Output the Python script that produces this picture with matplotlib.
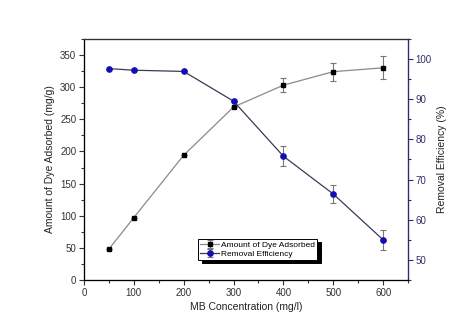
import matplotlib
matplotlib.use("Agg")
import matplotlib.pyplot as plt
from matplotlib.ticker import MultipleLocator

plt.rcParams['font.family'] = ['Liberation Sans', 'DejaVu Sans']

conc = [50, 100, 200, 300, 400, 500, 600]
amount = [48, 97, 194, 269, 303, 324, 330]
amount_err = [0, 0, 0, 0, 11, 14, 18]
removal = [97.6, 97.2, 96.9, 89.5, 75.8, 66.4, 55.0]
removal_err = [0, 0, 0, 0, 2.5, 2.3, 2.4]

fig = plt.figure(figsize=(4.74, 3.35), dpi=100)
ax = fig.add_axes([0.177, 0.164, 0.684, 0.720])
ax2 = ax.twinx()

navy = '#2e2e6e'
l1 = ax.errorbar(conc, amount, yerr=amount_err, color='#8a8a8a', lw=0.9,
                 marker='s', ms=3.4, mfc='black', mec='black',
                 ecolor='#777777', elinewidth=0.8, capsize=2.5, capthick=0.8,
                 label='Amount of Dye Adsorbed')
l2 = ax2.errorbar(conc, removal, yerr=removal_err, color='#3a3a55', lw=0.9,
                  marker='o', ms=3.8, mfc='#1010b0', mec='#1010b0',
                  ecolor='#777777', elinewidth=0.8, capsize=2.5, capthick=0.8,
                  label='Removal Efficiency')

ax.set_xlim(0, 650)
ax.set_ylim(0, 375)
ax2.set_ylim(45, 105)

ax.xaxis.set_major_locator(MultipleLocator(100))
ax.xaxis.set_minor_locator(MultipleLocator(50))
ax.yaxis.set_major_locator(MultipleLocator(50))
ax.yaxis.set_minor_locator(MultipleLocator(25))
ax2.yaxis.set_major_locator(MultipleLocator(10))
ax2.yaxis.set_minor_locator(MultipleLocator(5))
ax2.set_yticks([50, 60, 70, 80, 90, 100])

fs = 7
lfs = 7.5
ax.tick_params(axis='both', which='major', direction='out', length=3.5, width=0.8,
               labelsize=fs, colors='#333333', pad=2)
ax.tick_params(axis='both', which='minor', direction='out', length=2, width=0.8,
               colors='#333333')
ax.tick_params(axis='x', which='both', top=False)
ax2.tick_params(axis='y', which='major', direction='out', length=3.5, width=0.8,
                labelsize=fs, colors=navy, pad=2)
ax2.tick_params(axis='y', which='minor', direction='out', length=2, width=0.8,
                colors=navy)

for s in ['left', 'bottom', 'top']:
    ax.spines[s].set_color('#333333')
    ax.spines[s].set_linewidth(0.9)
ax2.spines['right'].set_color(navy)
ax2.spines['right'].set_linewidth(0.9)
ax2.spines['top'].set_color('#333333')

ax.set_xlabel('MB Concentration (mg/l)', fontsize=lfs, color='#222222', labelpad=3)
ax.set_ylabel('Amount of Dye Adsorbed (mg/g)', fontsize=lfs, color='#222222', labelpad=4)
ax2.set_ylabel('Removal Efficiency (%)', fontsize=lfs, color='#222222', labelpad=4)

leg = ax.legend(handles=[l1, l2], loc='lower left', bbox_to_anchor=(0.353, 0.083),
                fontsize=6, frameon=True, fancybox=False,
                shadow={'color': 'black', 'alpha': 1, 'ox': 2.3, 'oy': -2.2},
                borderpad=0.25, labelspacing=0.15, handlelength=2.2, handletextpad=0.3,
                borderaxespad=0)
leg.get_frame().set_edgecolor('black')
leg.get_frame().set_linewidth(0.7)

fig.savefig('out.png', dpi=100)
